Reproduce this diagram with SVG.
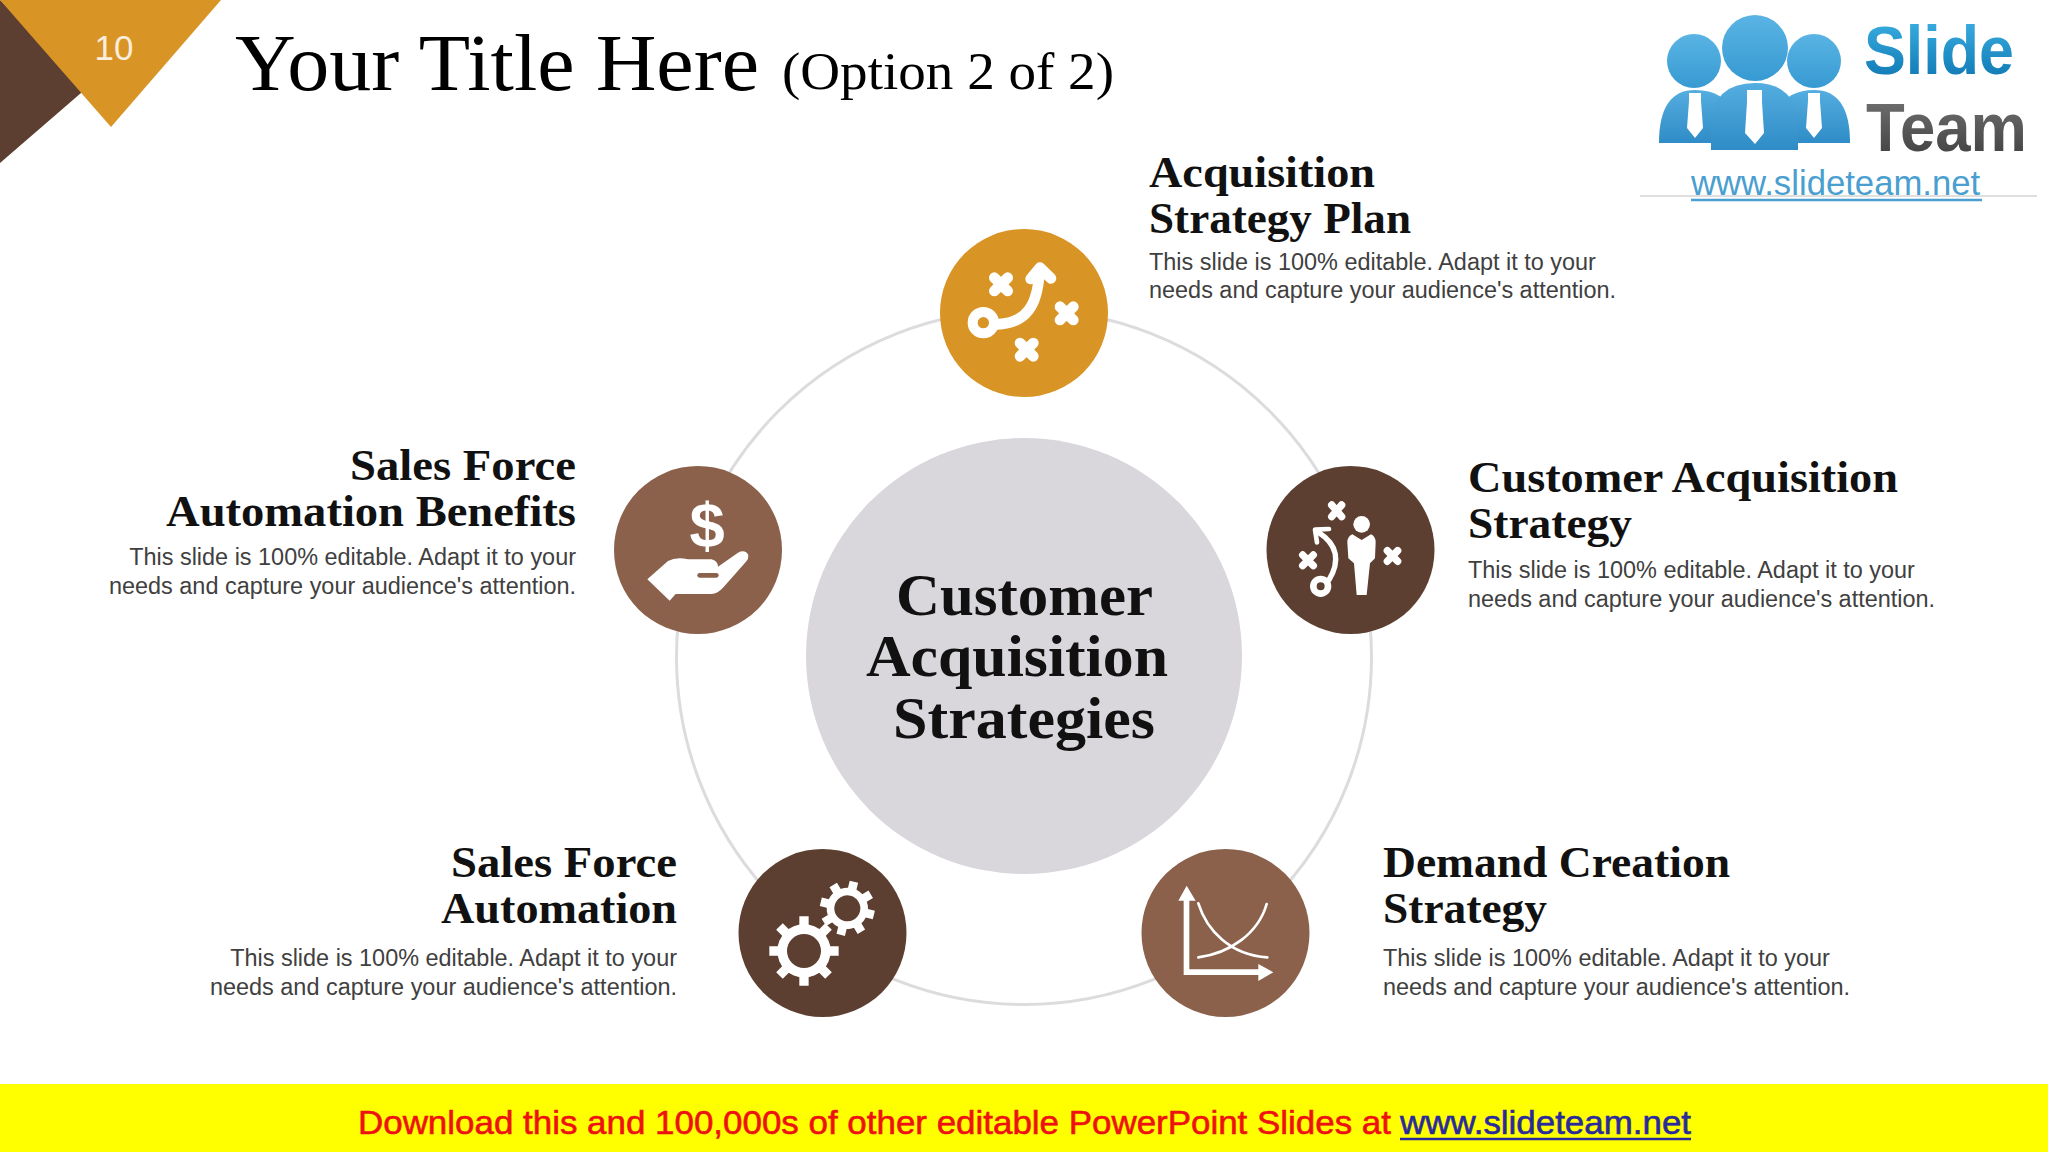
<svg xmlns="http://www.w3.org/2000/svg" width="2048" height="1152" viewBox="0 0 2048 1152">
<defs>
<linearGradient id="gs" x1="0" y1="0" x2="0" y2="1"><stop offset="0" stop-color="#3fb4e6"/><stop offset="1" stop-color="#0a72ae"/></linearGradient>
<linearGradient id="gt" x1="0" y1="0" x2="0" y2="1"><stop offset="0" stop-color="#777"/><stop offset="1" stop-color="#3c3c3c"/></linearGradient>
<linearGradient id="gh" x1="0" y1="0" x2="0" y2="1"><stop offset="0" stop-color="#5ab4e4"/><stop offset="1" stop-color="#379ad2"/></linearGradient>
<linearGradient id="gb" x1="0" y1="0" x2="0" y2="1"><stop offset="0" stop-color="#55ade0"/><stop offset="1" stop-color="#2f8cc6"/></linearGradient>
</defs>
<style>
.h{font-family:"Liberation Serif","DejaVu Serif",serif;font-weight:700;font-size:44px;fill:#111}
.c{font-family:"Liberation Serif","DejaVu Serif",serif;font-weight:700;font-size:60px;fill:#111}
.b{font-family:"Liberation Sans",Arial,sans-serif;font-size:23.45px;fill:#404040}
.e{text-anchor:end}
.w{stroke:#fff;fill:none;stroke-linecap:round;stroke-linejoin:round}
.f{fill:#fff;stroke:none}
.o{fill:#d99426}.d{fill:#5c3f30}.l{fill:#8b614c}
</style>
<rect width="2048" height="1152" fill="#fff"/>
<g id="corner">
<polygon points="0,0 100,90 81,93 0,163" fill="#5c3f30"/>
<polygon points="0,0 221,0 111,127" fill="#d99426"/>
<text x="114" y="60" text-anchor="middle" font-family="Liberation Sans,sans-serif" font-size="35" fill="#fbeedc">10</text>
</g>
<g id="title" font-family="Liberation Serif,serif" fill="#000">
<text x="235" y="90" font-size="80" textLength="524" lengthAdjust="spacingAndGlyphs">Your Title Here</text>
<text x="782" y="89" font-size="52" textLength="332" lengthAdjust="spacingAndGlyphs">(Option 2 of 2)</text>
</g>
<g id="logo">
<g fill="url(#gb)">
<path d="M1659,143 Q1659,90 1695,90 Q1725,90 1735,115 L1735,143 Z"/>
<path d="M1850,143 Q1850,90 1814,90 Q1785,90 1775,115 L1775,143 Z"/>
<path d="M1711,150 L1711,125 Q1713,83 1755,83 Q1796,83 1798,125 L1798,150 Z"/>
</g>
<g fill="url(#gh)">
<circle cx="1694" cy="61" r="27"/><circle cx="1814" cy="61" r="27"/><circle cx="1755" cy="48" r="33"/>
</g>
<g fill="#fff">
<path d="M1689,93 H1701 V101 L1703,128 L1695,138 L1687,128 L1689,101 Z"/>
<path d="M1808,93 H1820 V101 L1822,128 L1814,138 L1806,128 L1808,101 Z"/>
<path d="M1747,90 H1762 V102 L1764,133 L1755,144 L1745,133 L1747,102 Z"/>
</g>
<text x="1864" y="74" font-family="Liberation Sans,sans-serif" font-weight="700" font-size="68" fill="url(#gs)" textLength="150" lengthAdjust="spacingAndGlyphs">Slide</text>
<text x="1866" y="151" font-family="Liberation Sans,sans-serif" font-weight="700" font-size="68" fill="url(#gt)" textLength="161" lengthAdjust="spacingAndGlyphs">Team</text>
<line x1="1640" y1="196" x2="2037" y2="196" stroke="#d5d5d5" stroke-width="1.5"/>
<text x="1691" y="195" font-family="Liberation Sans,sans-serif" font-size="34.7" fill="#4a9fd0">www.slideteam.net</text>
<line x1="1691" y1="200" x2="1982" y2="200" stroke="#4a9fd0" stroke-width="2.5"/>
</g>
<g id="connectors">
<circle cx="1024" cy="657" r="347.5" fill="none" stroke="#dcdcde" stroke-width="3"/>
</g>
<g id="center">
<circle cx="1024" cy="656" r="218" fill="#d9d7dc"/>
<text class="c" x="896" y="615" textLength="257" lengthAdjust="spacingAndGlyphs">Customer</text>
<text class="c" x="866" y="676" textLength="302" lengthAdjust="spacingAndGlyphs">Acquisition</text>
<text class="c" x="893" y="738" textLength="262" lengthAdjust="spacingAndGlyphs">Strategies</text>
</g>
<g id="node-plan">
<circle class="o" cx="1024" cy="313" r="84"/>
<g transform="translate(920 215) scale(.3333)">
<circle class="w" cx="190" cy="323" r="32" stroke-width="30"/>
<path class="w" d="M232,328 C320,325 352,270 358,175" stroke-width="32"/>
<path class="w" d="M332,192 L360,158 L393,190" stroke-width="32"/>
<path class="w" d="M223,188 L263,228 M263,188 L223,228 M420,275 L460,315 M460,275 L420,315 M300,384 L340,424 M340,384 L300,424" stroke-width="32"/>
</g>
<text class="h" x="1149" y="187" textLength="226" lengthAdjust="spacingAndGlyphs">Acquisition</text>
<text class="h" x="1149" y="233" textLength="262" lengthAdjust="spacingAndGlyphs">Strategy Plan</text>
<text class="b" x="1149" y="270">This slide is 100% editable. Adapt it to your</text>
<text class="b" x="1149" y="298">needs and capture your audience's attention.</text>
</g>
<g id="node-customer">
<circle class="d" cx="1350.500" cy="550" r="84"/>
<g transform="translate(1255 455) scale(.3333)">
<path class="w" d="M230,150 L260,185 M260,150 L230,185 M143,300 L175,332 M175,300 L143,332 M397,287 L428,319 M428,287 L397,319" stroke-width="22"/>
<circle class="w" cx="197" cy="394" r="22" stroke-width="20"/>
<path class="w" d="M222,375 C255,320 250,270 190,232" stroke-width="16"/>
<path class="w" d="M222,222 L180,224 L186,262" stroke-width="14"/>
<circle class="f" cx="320" cy="208" r="25"/>
<path class="f" d="M292,238 L320,255 L348,238 Q362,245 362,262 L360,310 L345,325 L335,420 L305,420 L297,325 L280,310 L277,262 Q277,245 292,238 Z"/>
</g>
<text class="h" x="1468" y="492" textLength="430" lengthAdjust="spacingAndGlyphs">Customer Acquisition</text>
<text class="h" x="1468" y="538" textLength="164" lengthAdjust="spacingAndGlyphs">Strategy</text>
<text class="b" x="1468" y="578">This slide is 100% editable. Adapt it to your</text>
<text class="b" x="1468" y="607">needs and capture your audience's attention.</text>
</g>
<g id="node-demand">
<circle class="l" cx="1225.500" cy="933" r="84"/>
<g transform="translate(1130 840) scale(.3333)">
<path class="f" d="M161,182 H145 L170,137 L197,182 H178 V388 H385 V372 L430,397 L385,423 V405 H161 Z"/>
<path class="w" d="M205,190 C230,270 300,345 412,352 M205,352 C300,340 385,280 410,192" stroke-width="8"/>
</g>
<text class="h" x="1383" y="877" textLength="347" lengthAdjust="spacingAndGlyphs">Demand Creation</text>
<text class="h" x="1383" y="923" textLength="164" lengthAdjust="spacingAndGlyphs">Strategy</text>
<text class="b" x="1383" y="966">This slide is 100% editable. Adapt it to your</text>
<text class="b" x="1383" y="995">needs and capture your audience's attention.</text>
</g>
<g id="node-automation">
<circle class="d" cx="822.500" cy="933" r="84"/>
<g transform="translate(728 840) scale(.3333)">
<g transform="translate(228 333)">
<path class="f" d="M-14,-104 H14 V104 H-14 Z M-104,-14 H104 V14 H-104 Z"/>
<path class="f" transform="rotate(45)" d="M-14,-104 H14 V104 H-14 Z M-104,-14 H104 V14 H-104 Z"/>
<circle class="f" r="80"/><circle class="d" r="51"/>
</g>
<g transform="translate(358 205) rotate(14)">
<path class="f" d="M-13,-82 H13 V82 H-13 Z M-82,-13 H82 V13 H-82 Z"/>
<path class="f" transform="rotate(45)" d="M-13,-82 H13 V82 H-13 Z M-82,-13 H82 V13 H-82 Z"/>
<circle class="f" r="62"/><circle class="d" r="39"/>
</g>
</g>
<text class="h" x="451" y="877" textLength="226" lengthAdjust="spacingAndGlyphs">Sales Force</text>
<text class="h" x="441" y="923" textLength="236" lengthAdjust="spacingAndGlyphs">Automation</text>
<text class="b e" x="677" y="966">This slide is 100% editable. Adapt it to your</text>
<text class="b e" x="677" y="995">needs and capture your audience's attention.</text>
</g>
<g id="node-benefits">
<circle class="l" cx="698" cy="550" r="84"/>
<g transform="translate(603 455) scale(.3333)">
<text x="312" y="275" text-anchor="middle" font-family="Liberation Sans,sans-serif" font-weight="700" font-size="190" fill="#fff">$</text>
<path class="f" d="M133,373 L195,318 Q220,305 255,313 L325,313 Q345,318 345,335 L405,293 Q425,282 435,298 Q440,310 425,325 L360,398 Q345,415 325,417 L218,417 L200,437 Z"/>
<path d="M290,361 L340,361" stroke="#8b614c" stroke-width="14" stroke-linecap="round"/>
</g>
<text class="h" x="350" y="480" textLength="226" lengthAdjust="spacingAndGlyphs">Sales Force</text>
<text class="h" x="166" y="526" textLength="410" lengthAdjust="spacingAndGlyphs">Automation Benefits</text>
<text class="b e" x="576" y="565">This slide is 100% editable. Adapt it to your</text>
<text class="b e" x="576" y="594">needs and capture your audience's attention.</text>
</g>
<g id="footer">
<rect y="1084" width="2048" height="68" fill="#ffff00"/>
<text x="358" y="1134" font-family="Liberation Sans,sans-serif" font-size="34" fill="#ee1111" stroke="#ee1111" stroke-width=".6" textLength="1033" lengthAdjust="spacingAndGlyphs">Download this and 100,000s of other editable PowerPoint Slides at</text>
<text x="1400" y="1134" font-family="Liberation Sans,sans-serif" font-size="34" fill="#2a2a9c" stroke="#2a2a9c" stroke-width=".6" textLength="291" lengthAdjust="spacingAndGlyphs">www.slideteam.net</text>
<line x1="1400" y1="1139" x2="1691" y2="1139" stroke="#2a2a9c" stroke-width="2.500"/>
</g>
</svg>
